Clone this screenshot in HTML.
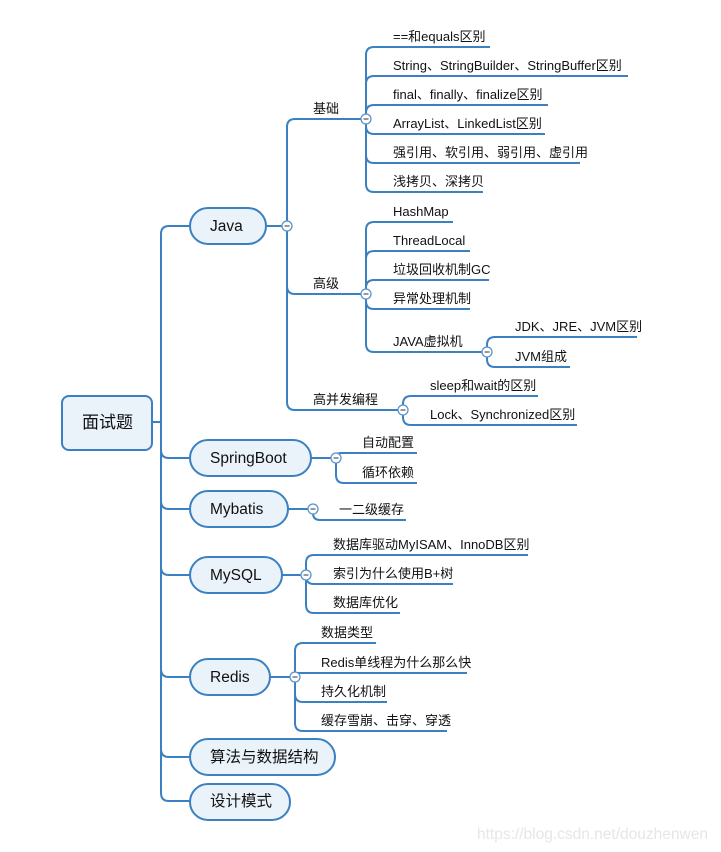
<!DOCTYPE html>
<html><head><meta charset="utf-8"><style>
html,body{margin:0;padding:0;background:#fff;}
svg{display:block;}
text{font-family:"Liberation Sans","Noto Sans CJK SC",sans-serif;fill:#111;}
.l{font-size:13px;}
.p{font-size:15.5px;}
</style></head><body>
<svg width="721" height="852" viewBox="0 0 721 852" xmlns="http://www.w3.org/2000/svg">
<g fill="none" stroke="#3b80c0" stroke-width="2">
<path d="M152,422 L161,422"/>
<path d="M161,422 L161,234 Q161,226 169,226 L190,226"/>
<path d="M161,422 L161,450 Q161,458 169,458 L190,458"/>
<path d="M161,422 L161,501 Q161,509 169,509 L190,509"/>
<path d="M161,422 L161,567 Q161,575 169,575 L190,575"/>
<path d="M161,422 L161,669 Q161,677 169,677 L190,677"/>
<path d="M161,422 L161,749 Q161,757 169,757 L190,757"/>
<path d="M161,422 L161,793 Q161,801 169,801 L190,801"/>
<path d="M266,226 L282,226"/>
<path d="M287,226 L287,127 Q287,119 295,119 L361,119"/>
<path d="M287,226 L287,286 Q287,294 295,294 L361,294"/>
<path d="M287,226 L287,402 Q287,410 295,410 L398,410"/>
<path d="M366,119 L366,55 Q366,47 374,47 L490,47"/>
<path d="M366,119 L366,84 Q366,76 374,76 L628,76"/>
<path d="M366,119 L366,113 Q366,105 374,105 L548,105"/>
<path d="M366,119 L366,126 Q366,134 374,134 L545,134"/>
<path d="M366,119 L366,155 Q366,163 374,163 L580,163"/>
<path d="M366,119 L366,184 Q366,192 374,192 L483,192"/>
<path d="M366,294 L366,230 Q366,222 374,222 L453,222"/>
<path d="M366,294 L366,259 Q366,251 374,251 L470,251"/>
<path d="M366,294 L366,288 Q366,280 374,280 L489,280"/>
<path d="M366,294 L366,301 Q366,309 374,309 L470,309"/>
<path d="M366,294 L366,344 Q366,352 374,352 L482,352"/>
<path d="M487,352 L487,345 Q487,337 495,337 L637,337"/>
<path d="M487,352 L487,359 Q487,367 495,367 L570,367"/>
<path d="M403,410 L403,404 Q403,396 411,396 L538,396"/>
<path d="M403,410 L403,417 Q403,425 411,425 L577,425"/>
<path d="M311,458 L331,458"/>
<path d="M336,458 Q336,453 341,453 L417,453"/>
<path d="M336,458 L336,475 Q336,483 344,483 L417,483"/>
<path d="M288,509 L308,509"/>
<path d="M313,509 L313,513 Q313,520 320,520 L406,520"/>
<path d="M282,575 L301,575"/>
<path d="M306,575 L306,563 Q306,555 314,555 L528,555"/>
<path d="M306,575 L306,576 Q306,584 314,584 L453,584"/>
<path d="M306,575 L306,605 Q306,613 314,613 L400,613"/>
<path d="M270,677 L290,677"/>
<path d="M295,677 L295,651 Q295,643 303,643 L376,643"/>
<path d="M295,677 L295,675 Q295,673 297,673 L467,673"/>
<path d="M295,677 L295,694 Q295,702 303,702 L387,702"/>
<path d="M295,677 L295,723 Q295,731 303,731 L447,731"/>
</g>
<g fill="#eaf2fa" stroke="#3b80c0" stroke-width="2">
<rect x="62" y="396" width="90" height="54" rx="7"/>
<rect x="190" y="208" width="76" height="36" rx="18"/>
<rect x="190" y="440" width="121" height="36" rx="18"/>
<rect x="190" y="491" width="98" height="36" rx="18"/>
<rect x="190" y="557" width="92" height="36" rx="18"/>
<rect x="190" y="659" width="80" height="36" rx="18"/>
<rect x="190" y="739" width="145" height="36" rx="18"/>
<rect x="190" y="784" width="100" height="36" rx="18"/>
</g>
<g fill="#fff" stroke="#5a93cc" stroke-width="1.3">
<circle cx="287" cy="226" r="5"/><circle cx="366" cy="119" r="5"/><circle cx="366" cy="294" r="5"/>
<circle cx="487" cy="352" r="5"/><circle cx="403" cy="410" r="5"/><circle cx="336" cy="458" r="5"/>
<circle cx="313" cy="509" r="5"/><circle cx="306" cy="575" r="5"/><circle cx="295" cy="677" r="5"/>
</g>
<g stroke="#333" stroke-width="1">
<path d="M284.5,226H289.5M363.5,119H368.5M363.5,294H368.5M484.5,352H489.5M400.5,410H405.5M333.5,458H338.5M310.5,509H315.5M303.5,575H308.5M292.5,677H297.5"/>
</g>
<text x="82" y="428" style="font-size:17px">面试题</text>
<text class="p" x="210" y="231">Java</text>
<text class="p" x="210" y="463">SpringBoot</text>
<text class="p" x="210" y="514">Mybatis</text>
<text class="p" x="210" y="580">MySQL</text>
<text class="p" x="210" y="682">Redis</text>
<text class="p" x="210" y="762">算法与数据结构</text>
<text class="p" x="210" y="806">设计模式</text>

<text class="l" x="313" y="113">基础</text>
<text class="l" x="313" y="288">高级</text>
<text class="l" x="313" y="404">高并发编程</text>
<text class="l" x="393" y="41">==和equals区别</text>
<text class="l" x="393" y="70">String、StringBuilder、StringBuffer区别</text>
<text class="l" x="393" y="99">final、finally、finalize区别</text>
<text class="l" x="393" y="128">ArrayList、LinkedList区别</text>
<text class="l" x="393" y="157">强引用、软引用、弱引用、虚引用</text>
<text class="l" x="393" y="186">浅拷贝、深拷贝</text>
<text class="l" x="393" y="216">HashMap</text>
<text class="l" x="393" y="245">ThreadLocal</text>
<text class="l" x="393" y="274">垃圾回收机制GC</text>
<text class="l" x="393" y="303">异常处理机制</text>
<text class="l" x="393" y="346">JAVA虚拟机</text>
<text class="l" x="515" y="331">JDK、JRE、JVM区别</text>
<text class="l" x="515" y="361">JVM组成</text>
<text class="l" x="430" y="390">sleep和wait的区别</text>
<text class="l" x="430" y="419">Lock、Synchronized区别</text>
<text class="l" x="362" y="447">自动配置</text>
<text class="l" x="362" y="477">循环依赖</text>
<text class="l" x="339" y="514">一二级缓存</text>
<text class="l" x="333" y="549">数据库驱动MyISAM、InnoDB区别</text>
<text class="l" x="333" y="578">索引为什么使用B+树</text>
<text class="l" x="333" y="607">数据库优化</text>
<text class="l" x="321" y="637">数据类型</text>
<text class="l" x="321" y="667">Redis单线程为什么那么快</text>
<text class="l" x="321" y="696">持久化机制</text>
<text class="l" x="321" y="725">缓存雪崩、击穿、穿透</text>
<text x="477" y="839" style="font-size:15.5px;fill:#e6e6e6">https://blog.csdn.net/douzhenwen</text>
</svg>
</body></html>
